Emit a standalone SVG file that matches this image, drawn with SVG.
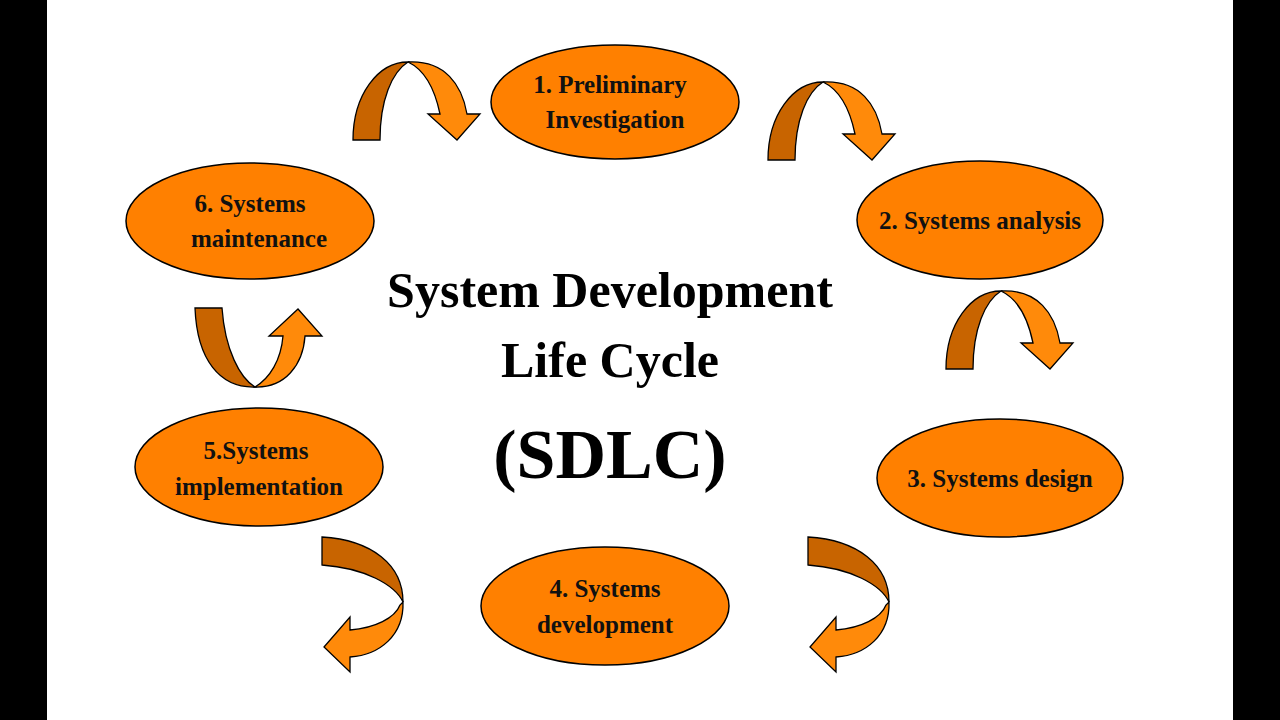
<svg xmlns="http://www.w3.org/2000/svg" xmlns:xlink="http://www.w3.org/1999/xlink" width="1280" height="720" viewBox="0 0 1280 720">
<style>
.n{fill:#FF8000;stroke:#000;stroke-width:1.5}
.t{font-family:"Liberation Serif",serif;font-weight:bold;font-size:25px;fill:#111;text-anchor:middle}
.h{font-family:"Liberation Serif",serif;font-weight:bold;fill:#000;text-anchor:middle}
.d{fill:#C86400;stroke:#000;stroke-width:1.3}
.l{fill:#FF8A0A;stroke:#000;stroke-width:1.3}
</style>
<defs>
<g id="arcA">
<path class="d" d="M353,140 L380,140 C380,100 392,72 408,62 C378,62 353,95 353,140 Z"/>
<path class="l" d="M408,62 C445,60 462,85 467,114 L480,114 L457,140 L428,114 L440,114 C435,90 425,70 408,62 Z"/>
</g>
<g id="arcE">
<path class="d" d="M322,537 C372,540 403,565 403,602 C395,585 365,568 322,565 Z"/>
<path class="l" d="M403,602 C404,635 380,655 350,657 L350,672 L324,647 L350,617 L350,630 C375,628 395,618 400,605 Z"/>
</g>
</defs>
<rect width="1280" height="720" fill="#fff"/>
<rect x="0" y="0" width="47" height="720" fill="#000"/>
<rect x="1233" y="0" width="47" height="720" fill="#000"/>
<g id="connectors">
<use xlink:href="#arcA"/>
<use xlink:href="#arcA" transform="translate(415,20)"/>
<use xlink:href="#arcA" transform="translate(593,229)"/>
<g id="arcD">
<path class="d" d="M195,308 L222,308 C225,350 240,378 255,387 C220,388 197,360 195,308 Z"/>
<path class="l" d="M255,387 C285,388 303,365 305,336 L322,336 L298,309 L269,336 L283,336 C281,360 270,378 255,387 Z"/>
</g>
<use xlink:href="#arcE"/>
<use xlink:href="#arcE" transform="translate(486,0)"/>
</g>
<g id="n1"><ellipse class="n" cx="615" cy="102" rx="124" ry="57"/><text class="t" x="610" y="93">1.    Preliminary</text><text class="t" x="615" y="128">Investigation</text></g>
<g id="n2"><ellipse class="n" cx="980" cy="220" rx="123" ry="59"/><text class="t" x="980" y="229">2. Systems analysis</text></g>
<g id="n3"><ellipse class="n" cx="1000" cy="478" rx="123" ry="59"/><text class="t" x="1000" y="487">3. Systems design</text></g>
<g id="n4"><ellipse class="n" cx="605" cy="606" rx="124" ry="59"/><text class="t" x="605" y="597">4. Systems</text><text class="t" x="605" y="633">development</text></g>
<g id="n5"><ellipse class="n" cx="259" cy="467" rx="124" ry="59"/><text class="t" x="256" y="459">5.Systems</text><text class="t" x="259" y="495">implementation</text></g>
<g id="n6"><ellipse class="n" cx="250" cy="221" rx="124" ry="58"/><text class="t" x="250" y="212">6. Systems</text><text class="t" x="259" y="247">maintenance</text></g>
<g id="title">
<text class="h" x="610" y="307" font-size="50">System Development</text>
<text class="h" x="610" y="377" font-size="50">Life Cycle</text>
<text class="h" x="610" y="478" font-size="70">(SDLC)</text>
</g>
</svg>
